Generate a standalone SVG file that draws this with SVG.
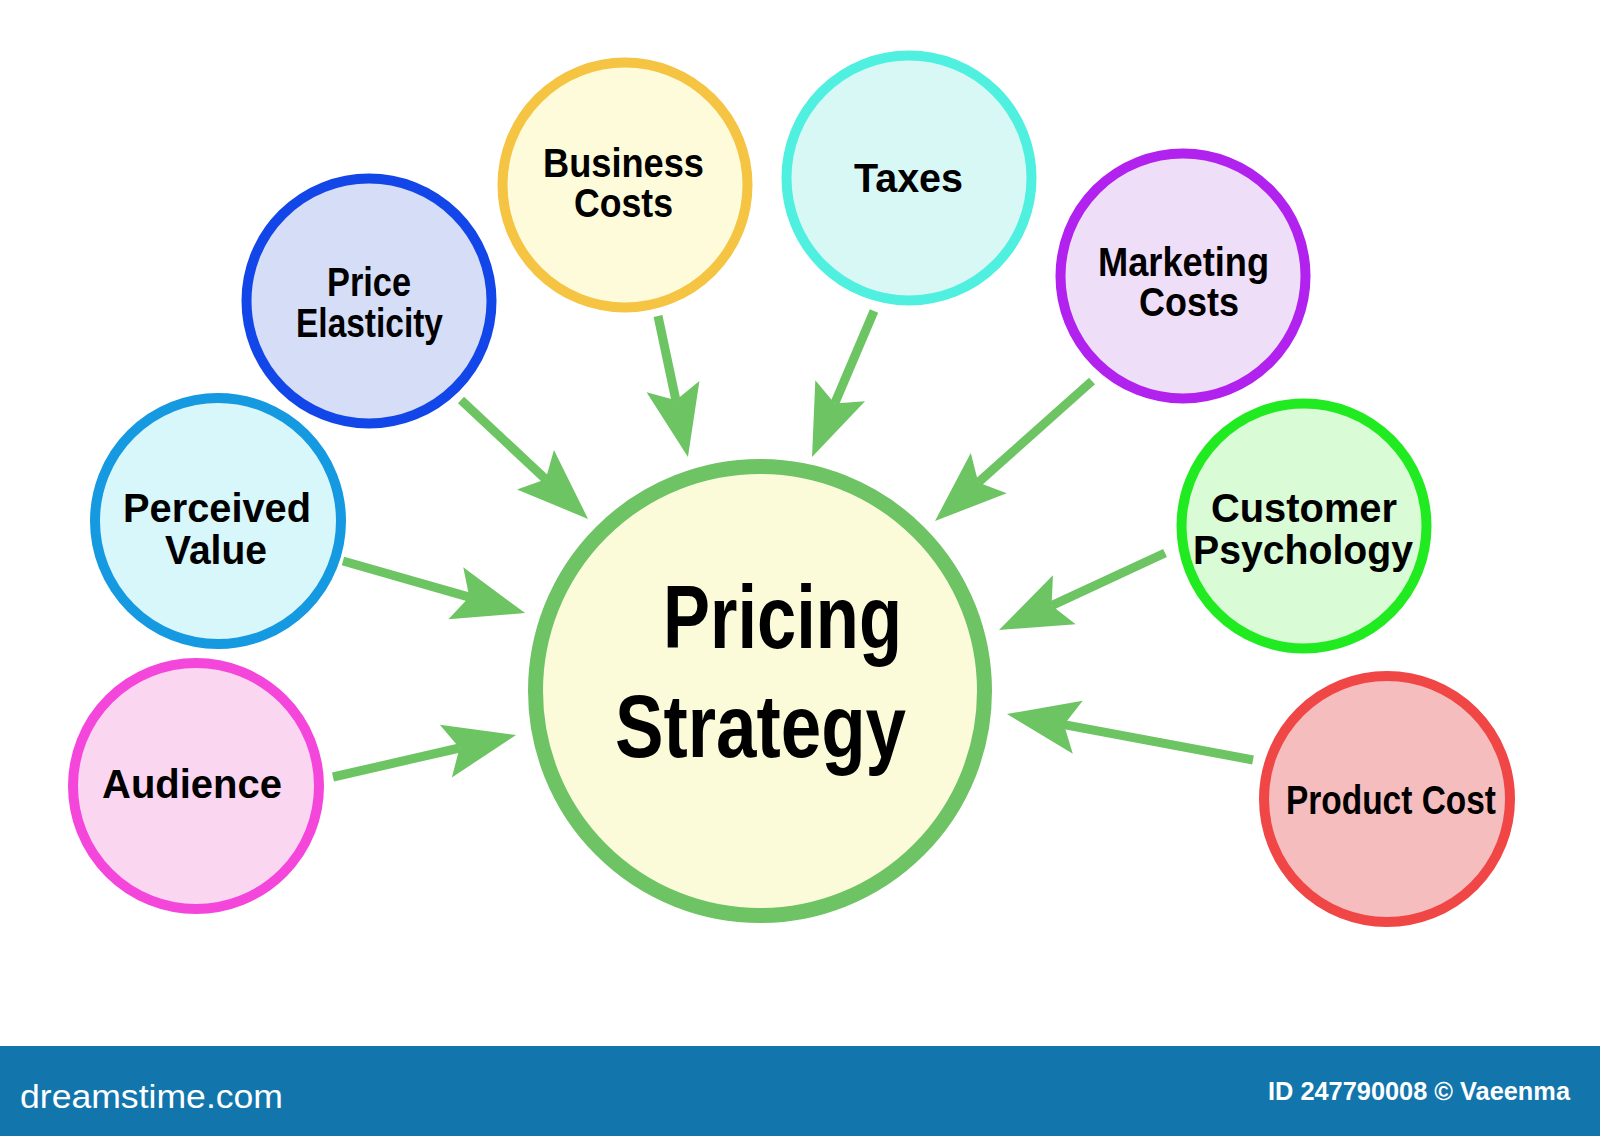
<svg xmlns="http://www.w3.org/2000/svg" width="1600" height="1136" viewBox="0 0 1600 1136">
<style>
.node circle{stroke-width:10}
.lbl{font-family:"Liberation Sans",Arial,sans-serif;font-weight:bold;font-size:40px;fill:#000}
.big{font-family:"Liberation Sans",Arial,sans-serif;font-weight:bold;font-size:89px;fill:#000}
.conn line{stroke:#6cc462;stroke-width:9;fill:none}
.foot{font-family:"Liberation Sans",Arial,sans-serif;fill:#fff}
</style>
<defs>
<marker id="ah" markerUnits="userSpaceOnUse" orient="auto" refX="0" refY="0" markerWidth="80" markerHeight="60" overflow="visible">
<path d="M-14,-27 L58,0 L-14,27 L0,0 Z" fill="#6cc462"/>
</marker>
</defs>
<rect x="0" y="0" width="1600" height="1136" fill="#ffffff"/>

<g id="connectors" class="conn">
<line x1="461" y1="400" x2="545.7" y2="479.3" marker-end="url(#ah)"/>
<line x1="658" y1="316" x2="675.9" y2="400.3" marker-end="url(#ah)"/>
<line x1="874" y1="311" x2="834.7" y2="403.6" marker-end="url(#ah)"/>
<line x1="1092" y1="381" x2="978.3" y2="482.4" marker-end="url(#ah)"/>
<line x1="1165" y1="553" x2="1051.6" y2="605.6" marker-end="url(#ah)"/>
<line x1="1253" y1="760" x2="1064" y2="724.7" marker-end="url(#ah)"/>
<line x1="343" y1="561" x2="469.3" y2="597.1" marker-end="url(#ah)"/>
<line x1="333" y1="777" x2="459.5" y2="748" marker-end="url(#ah)"/>
</g>

<g id="center" class="node">
<circle cx="760" cy="691" r="224.5" fill="#fbfbda" stroke="#6ec364" style="stroke-width:15"/>
<text class="big" x="663" y="648" textLength="239" lengthAdjust="spacingAndGlyphs">Pricing</text>
<text class="big" x="615" y="757" textLength="291" lengthAdjust="spacingAndGlyphs">Strategy</text>
</g>

<g id="price-elasticity" class="node">
<circle cx="369" cy="301" r="122.5" fill="#d6ddf6" stroke="#1346e8"/>
<text class="lbl" x="327" y="296" textLength="84" lengthAdjust="spacingAndGlyphs">Price</text>
<text class="lbl" x="296" y="337" textLength="147" lengthAdjust="spacingAndGlyphs">Elasticity</text>
</g>

<g id="business-costs" class="node">
<circle cx="625" cy="185" r="122.5" fill="#fdfbda" stroke="#f6c443"/>
<text class="lbl" x="543" y="177" textLength="161" lengthAdjust="spacingAndGlyphs">Business</text>
<text class="lbl" x="574" y="217" textLength="99" lengthAdjust="spacingAndGlyphs">Costs</text>
</g>

<g id="taxes" class="node">
<circle cx="909" cy="178" r="122.5" fill="#d8f8f6" stroke="#50f0e0"/>
<text class="lbl" x="854" y="192" textLength="109" lengthAdjust="spacingAndGlyphs">Taxes</text>
</g>

<g id="marketing-costs" class="node">
<circle cx="1183" cy="276" r="122.5" fill="#efdef7" stroke="#b122ee"/>
<text class="lbl" x="1098" y="276" textLength="171" lengthAdjust="spacingAndGlyphs">Marketing</text>
<text class="lbl" x="1139" y="316" textLength="100" lengthAdjust="spacingAndGlyphs">Costs</text>
</g>

<g id="customer-psychology" class="node">
<circle cx="1304" cy="526" r="122.5" fill="#d9fbd6" stroke="#20ea20"/>
<text class="lbl" x="1211" y="522" textLength="186" lengthAdjust="spacingAndGlyphs">Customer</text>
<text class="lbl" x="1193" y="564" textLength="220" lengthAdjust="spacingAndGlyphs">Psychology</text>
</g>

<g id="product-cost" class="node">
<circle cx="1387" cy="799" r="123" fill="#f5bdbd" stroke="#f04646"/>
<text class="lbl" x="1286" y="814" textLength="210" lengthAdjust="spacingAndGlyphs">Product Cost</text>
</g>

<g id="perceived-value" class="node">
<circle cx="218" cy="521" r="123" fill="#d8f7fb" stroke="#1599e0"/>
<text class="lbl" x="123" y="522" textLength="188" lengthAdjust="spacingAndGlyphs">Perceived</text>
<text class="lbl" x="165" y="564" textLength="102" lengthAdjust="spacingAndGlyphs">Value</text>
</g>

<g id="audience" class="node">
<circle cx="196" cy="786" r="123" fill="#fbd6f0" stroke="#f546dc"/>
<text class="lbl" x="102" y="798" textLength="180" lengthAdjust="spacingAndGlyphs">Audience</text>
</g>

<g id="footer">
<rect x="0" y="1046" width="1600" height="90" fill="#1276ad"/>
<text class="foot" x="20" y="1108" font-size="33" font-family="'Open Sans',sans-serif" textLength="263" lengthAdjust="spacingAndGlyphs">dreamstime.com</text>
<text class="foot" x="1268" y="1100" font-size="25" font-weight="bold" textLength="302" lengthAdjust="spacingAndGlyphs">ID 247790008 © Vaeenma</text>
</g>
</svg>
